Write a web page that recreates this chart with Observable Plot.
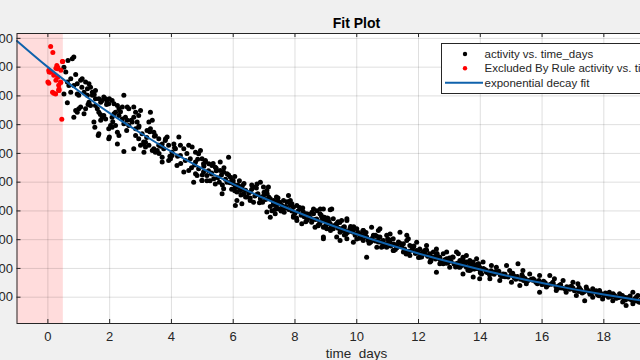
<!DOCTYPE html>
<html><head><meta charset="utf-8">
<script src="https://cdn.jsdelivr.net/npm/d3@7"></script>
<script src="https://cdn.jsdelivr.net/npm/@observablehq/plot@0.6"></script>
<style>
html,body{margin:0;padding:0;background:#f0f0f0;overflow:hidden;width:640px;height:360px;}
#wrap{position:relative;width:640px;height:360px;overflow:hidden;font-family:"Liberation Sans",Arial,Helvetica,sans-serif;color:#262626;}
#chart{position:absolute;left:-34px;top:0;width:740px;height:360px;}
#title{position:absolute;left:0;width:713px;top:15px;line-height:16px;text-align:center;font-weight:bold;font-size:14px;color:#000;}
#xlabel{position:absolute;left:0;width:713px;top:345.5px;line-height:16px;text-align:center;font-size:13.5px;color:#262626;}
#legend{position:absolute;left:441px;top:43px;}
</style>
</head><body>
<div id="wrap">
  <div id="chart"></div>
  <div id="title">Fit Plot</div>
  <div id="xlabel">time_days</div>
  <svg id="legend" width="260" height="52"></svg>
</div>
<script>
// ---- data ----
const xTicks = [0, 2, 4, 6, 8, 10, 12, 14, 16, 18, 20];
const yTicks = [200, 300, 400, 500, 600, 700, 800, 900, 1000, 1100];
const xDomain = [-1, 21];
const yDomain = [108.5, 1117];
const excludedRange = [-1, 0.5];

const fitDays = [-1,0,1,2,3,4,5,6,7,8,9,10,11,12,13,14,15,16,17,18,19,20,21];
const fitActivity = [1091,1000,917,840,771,706,647,593,544,499,457,419,384,352,323,296,271,249,228,209,192,176,161];

const excludedPoints = [[0.09,1072],[0.16,1051],[0.48,1020],[0.03,989],[0.26,996],[0.32,965],[0.03,944],[0.19,909],[0.45,819],[0.35,937],[0.42,947],[0.09,982],[0.19,972],[0.35,920],[0.26,954],[0.29,1006],[0.32,999],[0.42,989],[0.31,994],[0.47,1020],[0.41,948],[0.36,919],[0.04,983],[0.0,948],[0.15,913],[0.25,907],[0.36,924]];

const activityEarly = [[0.65,1023],[0.79,1029],[0.84,1035],[0.52,1000],[0.58,983],[0.9,974],[0.74,960],[0.63,948],[0.68,936],[0.84,936],[0.95,942],[1.06,954],[1.11,960],[1.22,948],[1.33,942],[1.38,930],[1.28,925],[0.52,907],[0.74,913],[0.95,907],[1.0,902],[0.63,876],[1.17,913],[1.28,902],[1.44,913],[1.54,919],[1.44,902],[1.06,861],[1.0,855],[0.95,843],[0.9,849],[0.84,826],[1.22,855],[1.17,838],[1.33,878],[1.38,867],[1.54,890],[1.65,890],[1.71,878],[1.76,884],[1.81,896],[1.87,890],[1.92,878],[1.97,873],[1.54,867],[1.60,855],[1.65,843],[1.49,809],[1.52,791],[1.65,768],[1.63,762],[1.76,826],[1.71,815],[1.81,832],[1.87,820],[1.97,751],[2.03,797],[2.08,791],[1.97,786],[2.08,826],[2.14,838],[2.19,843],[2.30,832],[1.99,890],[2.08,884],[2.14,873],[2.25,867],[2.30,855],[2.41,861],[2.46,902],[2.57,861],[2.62,855],[2.78,861],[2.84,843],[2.41,820],[2.51,826],[2.57,815],[2.46,803],[2.62,797],[2.73,809],[2.84,786],[2.94,791],[2.19,797],[2.25,774],[2.30,762],[1.99,757],[2.25,733],[2.46,707],[2.94,832],[3.0,849],[3.32,843],[3.38,815],[2.84,762],[2.94,751],[3.05,768],[3.16,739],[2.78,716],[3.11,704],[3.21,780],[3.32,786],[3.43,774],[3.48,762],[3.59,751],[3.27,728],[3.43,716],[3.54,710],[3.70,733],[3.81,751],[3.86,757],[4.24,757],[4.29,728],[4.13,716],[4.02,704],[3.97,681],[3.70,687],[3.91,728],[4.08,733],[4.40,716],[4.56,728],[4.67,722],[4.78,704],[4.88,699],[4.99,681],[5.04,664],[5.10,670],[4.40,635],[4.72,600],[4.99,606],[4.56,641],[4.78,629],[3.70,670],[3.91,675],[4.18,658],[4.02,693],[4.29,693],[3.27,809],[2.78,826],[2.89,809],[3.0,728],[3.11,733],[3.16,722],[3.38,710],[3.48,704],[3.59,728],[3.75,716],[4.88,647],[5.04,635],[4.83,623],[4.45,675],[4.61,681],[4.78,670]];

const activityMid = [[4.94,710],[5.10,675],[5.21,664],[5.31,658],[5.42,652],[5.58,670],[5.58,641],[5.69,635],[5.80,629],[5.85,687],[4.99,606],[5.15,623],[5.37,612],[5.42,594],[5.64,560],[5.69,577],[5.91,617],[5.96,606],[6.01,594],[6.07,583],[6.12,566],[6.23,571],[6.34,560],[6.45,548],[6.55,566],[6.66,583],[6.77,594],[6.88,600],[6.98,583],[7.09,571],[7.14,583],[6.12,536],[6.07,519],[6.28,525],[6.55,536],[6.66,530],[6.88,542],[7.09,496],[7.20,478],[7.25,501],[7.36,490],[7.47,507],[7.58,519],[7.74,530],[7.79,554],[7.85,536],[7.20,542],[7.31,536],[7.42,530],[7.52,525],[7.63,536],[7.90,525],[7.95,513],[8.06,519],[8.17,507],[8.27,496],[8.38,490],[8.49,478],[8.60,507],[8.71,501],[8.81,490],[8.92,507],[9.14,504],[7.95,478],[8.06,467],[8.22,455],[8.38,467],[8.54,461],[8.65,443],[8.81,455],[8.92,409],[8.98,443],[9.08,455],[9.24,473],[9.35,455],[9.46,438],[9.57,443],[9.68,467],[9.78,432],[9.89,438],[10.0,420],[10.11,415],[10.21,432],[10.32,409],[10.37,397],[9.35,409],[9.46,397],[9.68,403],[9.89,391],[10.32,339]];

const activityLate = [[8.82,507],[9.19,507],[8.87,478],[8.98,467],[9.08,473],[9.14,455],[8.92,443],[9.03,438],[9.24,438],[8.92,403],[9.35,455],[9.51,467],[9.68,473],[9.46,426],[9.62,432],[9.78,438],[9.89,426],[10.0,438],[10.11,420],[10.21,432],[10.48,443],[10.54,415],[10.70,432],[10.75,409],[10.86,397],[10.97,415],[11.08,391],[11.18,403],[11.40,426],[11.29,380],[11.51,386],[11.62,397],[11.67,403],[11.72,380],[11.83,374],[11.94,362],[12.04,368],[12.15,357],[12.26,362],[12.37,351],[12.48,357],[12.58,345],[12.69,339],[12.80,351],[12.91,334],[13.01,328],[13.12,339],[13.23,357],[13.34,328],[13.44,334],[13.55,322],[13.66,316],[13.77,322],[13.88,310],[13.98,304],[12.58,287],[13.98,264],[10.21,397],[10.43,391],[10.65,374],[10.97,374],[11.18,362],[11.51,357],[11.72,345],[12.04,339],[12.37,322],[12.69,316],[13.01,304],[13.34,304],[13.66,293],[10.75,438],[11.08,420],[11.62,415],[11.94,391],[12.26,380],[12.58,368],[12.91,357],[13.29,351],[13.55,345],[13.88,334]];

const activityTail = [[13.44,339],[13.66,328],[13.93,316],[14.09,322],[14.36,310],[14.52,304],[14.85,310],[14.95,293],[15.22,316],[15.38,293],[15.60,281],[15.92,275],[16.25,275],[16.40,264],[16.68,258],[17.00,252],[17.16,247],[17.43,235],[17.64,229],[17.86,223],[18.18,217],[18.51,212],[18.94,217],[19.10,206],[13.55,304],[13.82,299],[14.20,293],[14.41,287],[14.74,281],[15.06,275],[15.38,270],[15.71,264],[16.03,252],[16.36,247],[16.57,241],[16.89,235],[17.21,229],[17.54,217],[17.86,212],[18.18,206],[18.51,200],[18.83,194],[19.04,188],[13.44,281],[13.77,270],[14.04,281],[14.31,264],[14.63,258],[15.01,252],[15.28,241],[15.49,247],[15.92,217],[16.14,235],[16.46,223],[16.78,217],[17.11,206],[17.38,188],[17.64,200],[17.96,194],[18.29,188],[18.61,183],[18.72,171],[18.94,177]];

const activityFill = [[5.05,655],[5.2,640],[5.3,628],[5.45,640],[5.5,615],[5.62,625],[5.75,610],[5.9,598],[6.0,605],[6.15,590],[6.2,580],[6.3,588],[6.4,572],[6.5,562],[6.6,575],[6.7,552],[6.8,560],[6.9,548],[7.0,556],[7.05,540],[7.15,548],[7.3,522],[7.4,518],[7.5,530],[7.6,510],[7.7,515],[7.8,505],[7.9,500],[8.0,492],[8.1,500],[8.2,485],[8.3,480],[8.45,488],[8.55,470],[8.7,472],[8.8,462],[8.9,470],[9.0,450],[9.1,462],[9.2,445],[9.3,448],[9.4,440],[9.55,432],[9.6,445],[9.7,425],[9.85,428],[9.95,415],[10.05,425],[10.15,410],[10.25,418],[10.4,400],[10.5,405],[10.6,395],[10.7,398],[10.8,390],[10.9,385],[11.0,388],[11.1,378],[11.2,385],[11.3,372],[11.45,375],[11.55,368],[11.7,360],[11.8,365],[11.9,352],[12.0,355],[12.1,348],[12.2,350],[12.3,342],[12.45,340],[12.55,333],[12.65,335],[12.75,325],[12.85,330],[12.95,320],[13.05,325],[13.15,315],[13.25,318],[13.4,310],[13.5,312],[13.6,305],[13.7,308],[13.8,298],[13.9,300],[14.0,292],[14.15,296],[14.25,285],[14.35,292],[14.45,280],[14.55,286],[14.65,276],[14.8,280],[14.9,270],[15.0,278],[15.1,268],[15.2,272],[15.3,262],[15.45,265],[15.55,258],[15.65,262],[15.8,252],[15.9,258],[16.0,245],[16.1,250],[16.2,242],[16.3,246],[16.45,236],[16.55,240],[16.65,232],[16.8,236],[16.9,228],[17.0,232],[17.1,224],[17.25,226],[17.35,218],[17.5,222],[17.6,214],[17.7,218],[17.8,210],[17.9,214],[18.0,205],[18.1,210],[18.25,202],[18.35,206],[18.45,198],[18.55,203],[18.65,195],[18.8,199],[18.9,190],[19.0,195],[19.1,186],[19.2,190],[19.3,185],[19.5,180],[19.7,178],[19.9,172],[14.1,300],[14.3,278],[14.6,290],[14.7,272],[15.05,283],[15.15,262],[15.35,278],[15.5,255],[15.75,260],[15.85,247],[16.05,255],[16.15,240],[16.35,252],[16.5,230],[16.6,244],[16.75,228],[16.95,238],[17.05,222],[17.2,234],[17.3,215],[17.45,228],[17.55,210],[17.75,222],[17.85,205],[18.05,215],[18.15,200],[18.3,212],[18.4,196],[18.6,206],[18.7,190],[18.85,204],[18.95,186],[19.05,200],[19.15,182],[9.05,475],[9.15,440],[9.45,460],[9.65,420],[9.9,445],[10.1,405],[10.3,425],[10.45,392],[10.65,412],[10.85,376],[11.05,400],[11.25,366],[11.35,392],[11.6,356],[11.85,378],[12.1,340],[12.25,365],[12.4,330],[12.6,352],[12.9,318],[13.1,340],[13.3,305],[13.45,324],[13.7,296],[13.95,315],[5.15,605],[5.35,665],[5.55,600],[5.7,650],[5.95,575],[6.05,620],[6.25,555],[6.35,595],[6.55,545],[6.75,580],[6.95,530],[7.1,560],[7.35,505],[7.45,545],[7.65,495],[7.85,520],[8.05,475],[8.25,510],[8.4,470],[8.6,490],[8.75,450],[8.85,485]];

const activityFill2 = [[1.1,930],[1.3,870],[1.5,905],[1.7,835],[1.9,870],[2.1,810],[2.35,845],[2.55,780],[2.7,815],[2.95,795],[3.1,740],[3.3,775],[3.45,760],[3.6,700],[3.8,745],[3.95,690],[4.1,720],[4.3,665],[4.5,700],[4.65,650],[4.85,680],[5.0,625],[5.25,605],[5.45,648],[5.65,590],[5.85,625],[6.05,570],[6.2,605],[6.4,548],[6.6,590],[6.85,528],[7.0,565],[7.2,515],[7.4,548],[7.55,500],[7.75,532],[7.95,482],[8.15,512],[8.35,462],[8.55,495],[8.75,448],[8.95,478],[9.15,432],[9.4,462],[9.6,416],[9.8,446],[10.0,402],[10.2,430],[10.4,388],[10.6,415],[10.8,374],[11.0,402],[11.2,362],[11.4,388],[11.6,350],[11.8,374],[12.0,338],[12.2,362],[12.4,326],[12.6,348],[12.8,316],[13.0,336],[13.2,305],[13.4,325],[13.6,294],[13.8,312],[14.0,285],[3.2,755],[3.65,725],[4.2,690],[4.75,660],[5.3,632],[5.8,600],[6.3,575],[6.75,556],[7.3,528],[7.7,510],[8.25,490],[8.65,470],[9.25,448],[9.7,428],[10.3,410],[10.7,392],[11.3,375],[11.7,360],[12.3,344],[12.7,330],[13.3,314],[13.7,302],[14.2,287],[14.5,289],[14.8,271],[15.1,273],[15.4,258],[15.7,259],[16.0,244],[16.3,246],[16.6,233],[16.9,233],[17.2,220],[17.5,221],[17.8,208],[18.1,210],[18.4,198],[18.7,199],[19.0,189]];

const legendLabels = ["activity vs. time_days", "Excluded By Rule activity vs. time_days", "exponential decay fit"];

// ---- chart ----
const W = 740, H = 360;
const mL = 50.5, mR = 10, mT = 33, mB = 37;
const plotW = W - mL - mR, plotH = H - mT - mB;
const axisColor = "#262626";
const fitColor = "#0f62ac";

const included = [...activityEarly, ...activityMid, ...activityLate, ...activityTail, ...activityFill, ...activityFill2];
const fitData = fitDays.map((d, i) => ({t: d, v: fitActivity[i]}));

const chart = Plot.plot({
  width: W, height: H,
  marginLeft: mL, marginRight: mR, marginTop: mT, marginBottom: mB,
  style: {background: "none", maxWidth: "none", fontFamily: "'Liberation Sans', Arial, Helvetica, sans-serif", fontSize: "13px", color: axisColor, overflow: "visible"},
  x: {domain: xDomain, ticks: xTicks, tickSize: 0, tickPadding: 8, label: null},
  y: {domain: yDomain, ticks: yTicks, tickSize: 0, tickPadding: 4, label: null, tickFormat: d => String(d)},
  marks: [
    Plot.frame({fill: "white", stroke: null}),
    Plot.rect([excludedRange], {x1: d => d[0], x2: d => d[1], fill: "#ffdcdc"}),
    Plot.ruleX(xTicks, {x: d => d, stroke: "#000", strokeOpacity: 0.13}),
    Plot.ruleY(yTicks, {y: d => d, stroke: "#000", strokeOpacity: 0.13}),
    Plot.dot(included, {x: d => d[0], y: d => d[1], r: 2.5, fill: "black", stroke: null}),
    Plot.dot(excludedPoints, {x: d => d[0], y: d => d[1], r: 2.5, fill: "#ff0000", stroke: null}),
    Plot.line(fitData, {x: "t", y: "v", stroke: fitColor, strokeWidth: 2, curve: "monotone-x"}),
    Plot.tickX(xTicks, {x: d => d, stroke: axisColor, insetTop: plotH - 4}),
    Plot.tickX(xTicks, {x: d => d, stroke: axisColor, insetBottom: plotH - 4}),
    Plot.tickY(yTicks, {y: d => d, stroke: axisColor, insetRight: plotW - 4}),
    Plot.frame({stroke: axisColor, strokeWidth: 1})
  ]
});
document.getElementById("chart").appendChild(chart);

// ---- legend ----
const lg = d3.select("#legend");
lg.append("rect").attr("x", 0.5).attr("y", 0.5).attr("width", 258).attr("height", 50).attr("fill", "white").attr("stroke", axisColor);
const rows = [11, 25.3, 39.7];
lg.append("circle").attr("cx", 24).attr("cy", rows[0]).attr("r", 2.2).attr("fill", "black");
lg.append("circle").attr("cx", 24).attr("cy", rows[1]).attr("r", 2.2).attr("fill", "#ff0000");
lg.append("line").attr("x1", 4).attr("x2", 42).attr("y1", rows[2]).attr("y2", rows[2]).attr("stroke", fitColor).attr("stroke-width", 2);
legendLabels.forEach((t, i) => {
  lg.append("text").attr("x", 43.5).attr("y", rows[i]).attr("dy", "0.35em")
    .attr("font-family", "'Liberation Sans', Arial, Helvetica, sans-serif").attr("font-size", 11.5)
    .attr("fill", axisColor).text(t);
});
</script>
</body></html>
